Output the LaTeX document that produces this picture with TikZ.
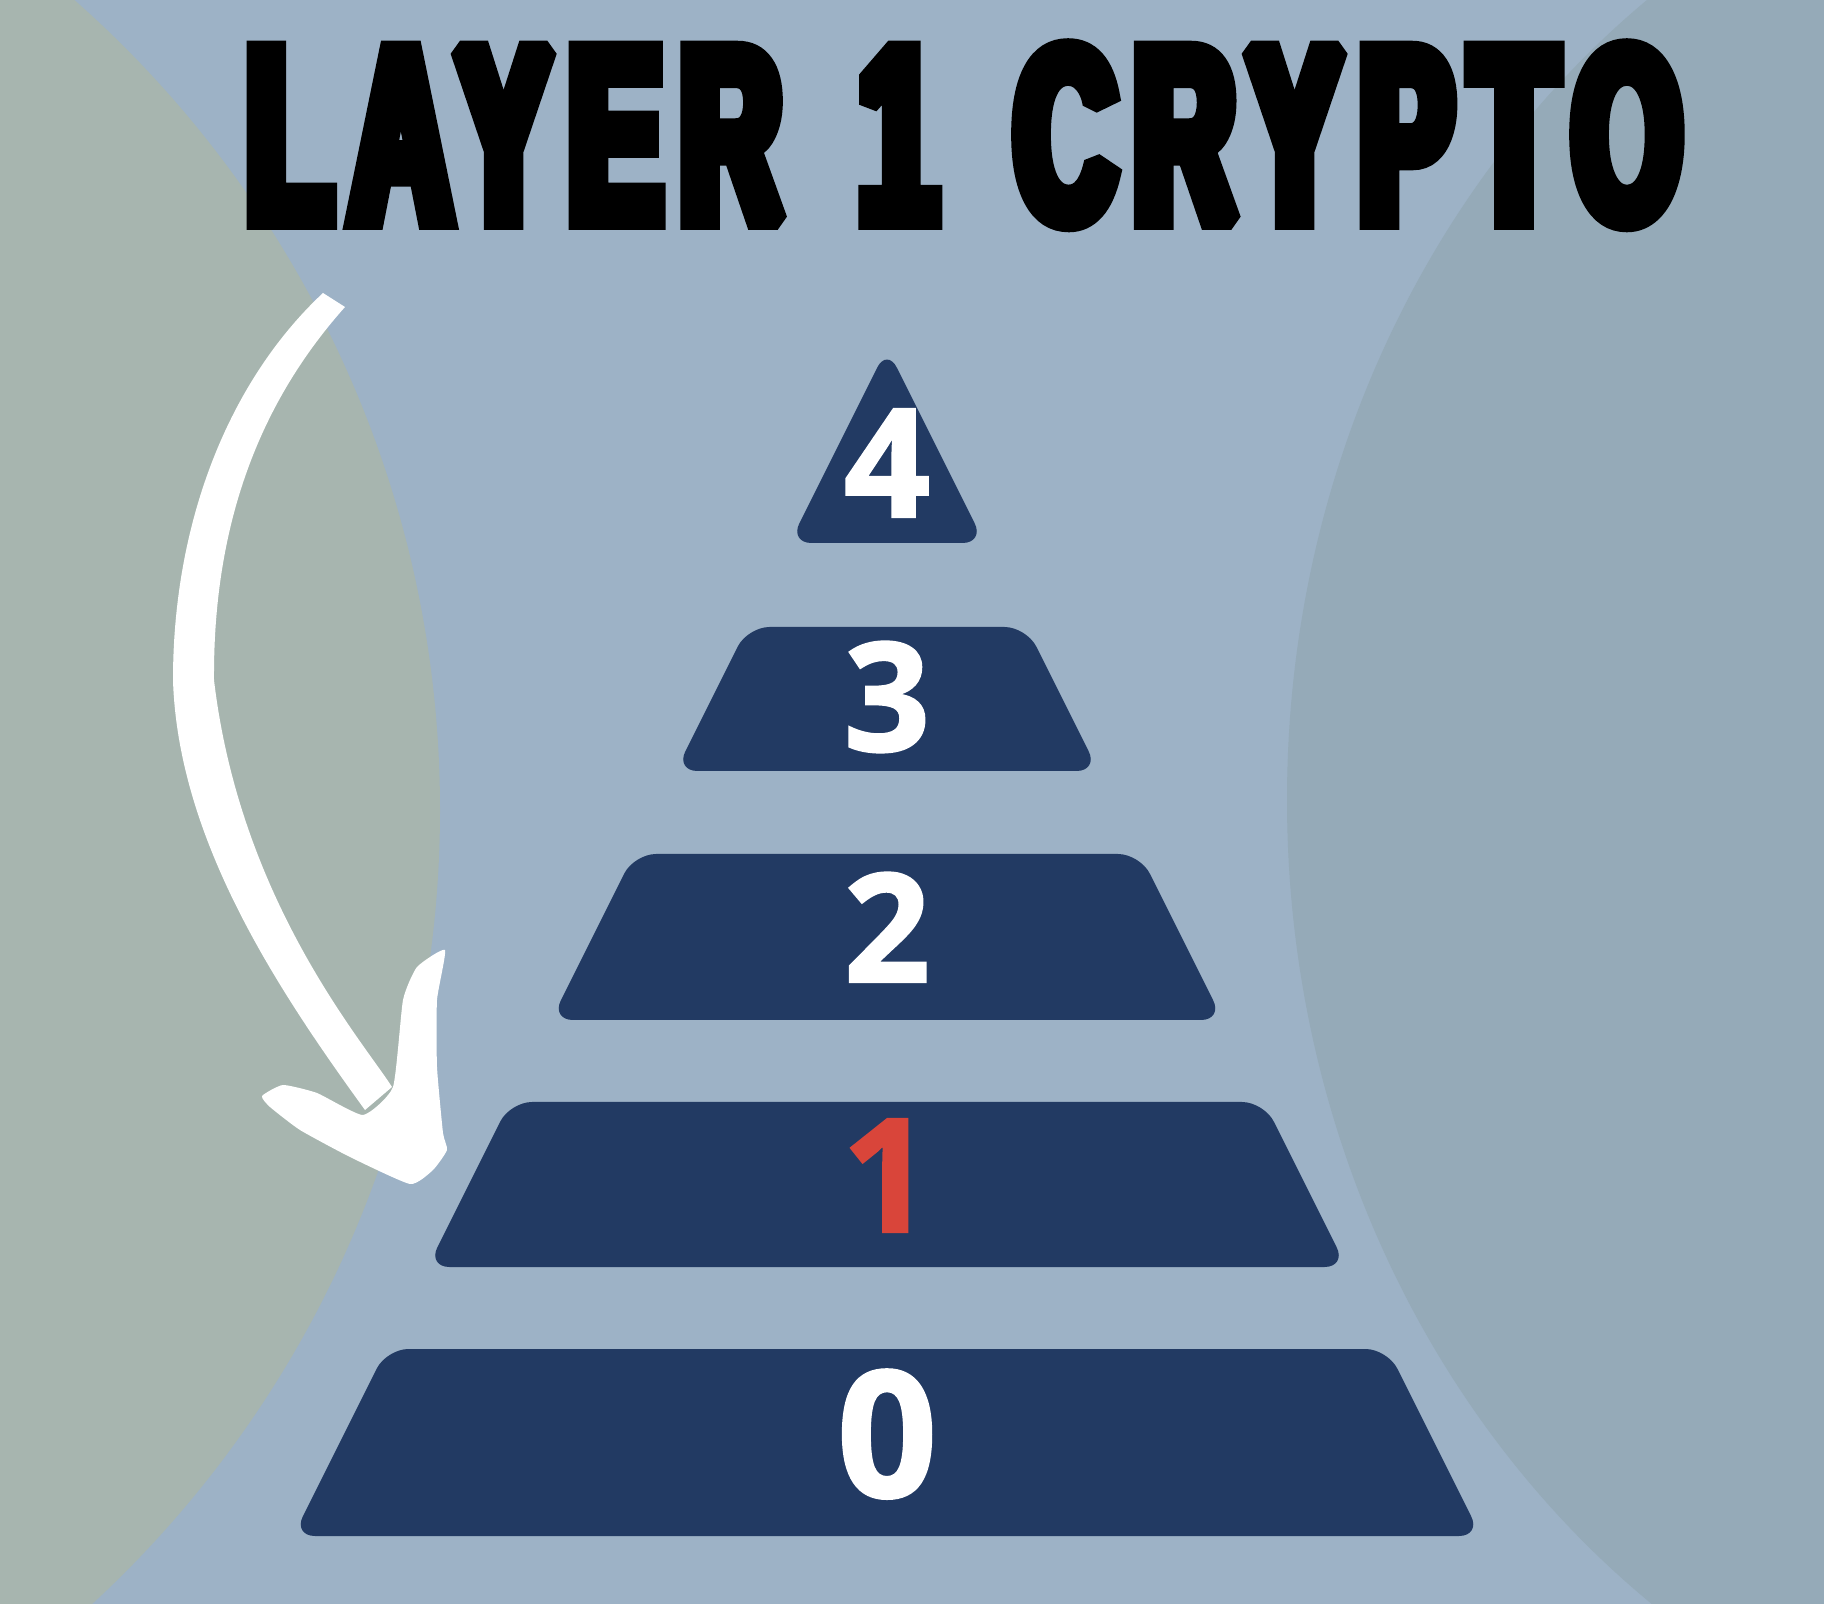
\documentclass[tikz,border=0pt]{standalone}
\usepackage{fontspec}
\newfontfamily\titlefont{Liberation Sans Bold}[FakeStretch=0.56,FakeBold=8,LetterSpace=8]
\newfontfamily\digitfont{Open Sans Bold}[FakeBold=1.5]
\newlength{\du}
\setlength{\du}{0.01cm}
\definecolor{bgblue}{RGB}{157,178,198}
\definecolor{bggreen}{RGB}{167,181,175}
\definecolor{bgslate}{RGB}{149,170,184}
\definecolor{tiernavy}{RGB}{34,58,99}
\definecolor{layerred}{RGB}{217,69,58}
\tikzset{
  tier/.style={fill=tiernavy, rounded corners=22\du},
  tiernum/.style={text=white, anchor=base, inner sep=0pt,
    font=\digitfont\fontsize{#1}{#1}\selectfont},
  headline/.style={text=black, anchor=base, inner sep=0pt, line join=miter, miter limit=1.6,
    font=\titlefont\fontsize{70}{70}\selectfont},
  arrowpaint/.style={fill=white},
}

\begin{document}
\begin{tikzpicture}
\pgftransformxscale{1.000000}
\pgftransformyscale{-1.000000}
\useasboundingbox (0\du,0\du) rectangle (1824\du,1604\du);
% background
\fill[bgblue] (0\du,0\du) rectangle (1824\du,1604\du);
\fill[bgslate] (2187\du,800\du) ellipse [x radius=900\du, y radius=1000\du];
\fill[bggreen] (-640\du,810\du) circle [radius=1080\du];
% title
\node[headline] (title) at (964\du,220\du) {LAYER\hspace{6pt} 1\hspace{6pt} CRYPTO};
% arrow
\coordinate (arrowtail) at (323\du,293\du);
\coordinate (arrowtip) at (410\du,1184\du);
\fill[arrowpaint] (arrowtail) .. controls (230\du,380\du) and (173\du,520\du) .. (173\du,680\du)
  .. controls (178\du,840\du) and (278\du,990\du) .. (365\du,1110\du)
  -- (392\du,1087\du) .. controls (362\du,1040\du) and (240\du,900\du) .. (214\du,680\du)
  .. controls (213\du,520\du) and (262\du,400\du) .. (345\du,307\du) -- cycle;
\fill[arrowpaint] plot[smooth cycle, tension=0.3] coordinates {(445\du,950\du) (437\du,1000\du) (437\du,1067\du) (443\du,1133\du) (447\du,1150\du) (433\du,1170\du) (arrowtip) (350\du,1157\du) (300\du,1130\du) (270\du,1107\du) (262\du,1096\du) (283\du,1085\du) (317\du,1093\du) (363\du,1115\du) (393\du,1087\du) (403\du,1000\du) (417\du,967\du)};
% pyramid
\fill[tier] (887\du,348\du) -- (984.5\du,543\du) -- (789.5\du,543\du) -- cycle;
\fill[tier] (747.5\du,627\du) -- (1026.5\du,627\du) -- (1098.5\du,771\du) -- (675.5\du,771\du) -- cycle;
\fill[tier] (634\du,854\du) -- (1140\du,854\du) -- (1223\du,1020\du) -- (551\du,1020\du) -- cycle;
\fill[tier] (510\du,1102\du) -- (1264\du,1102\du) -- (1346.5\du,1267\du) -- (427.5\du,1267\du) -- cycle;
\fill[tier] (386.5\du,1349\du) -- (1387.5\du,1349\du) -- (1481\du,1536\du) -- (293\du,1536\du) -- cycle;
\node[tiernum=43] (four) at (887\du,517\du) {4};
\node[tiernum=43] (three) at (887\du,751\du) {3};
\node[tiernum=43] (two) at (887\du,982\du) {2};
\node[tiernum=45, text=layerred] (one) at (887\du,1232\du) {1};
\node[tiernum=50] (zero) at (887\du,1497\du) {0};
\end{tikzpicture}
\end{document}
